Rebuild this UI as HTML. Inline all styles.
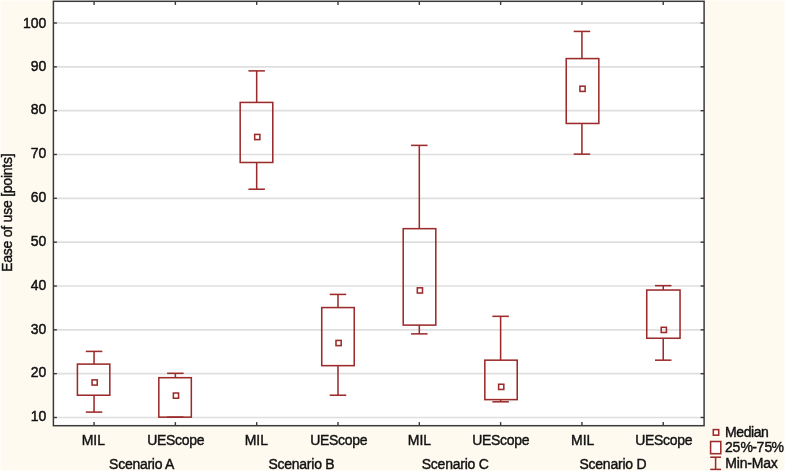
<!DOCTYPE html>
<html><head><meta charset="utf-8"><style>
html,body{margin:0;padding:0;background:#fefaf0;}
body{width:785px;height:471px;overflow:hidden;}
svg{display:block;}
text{font-family:"Liberation Sans",Arial,sans-serif;font-size:14px;fill:#111;stroke:#111;stroke-width:0.4px;}
text.n{font-size:14px;stroke-width:0.45px;}
</style></head><body>
<svg width="785" height="471" viewBox="0 0 785 471">
<rect width="785" height="471" fill="#fefaf0"/>
<rect x="0.5" y="0.5" width="784" height="470" fill="none" stroke="#fffdf8" stroke-width="1"/>
<rect x="53.4" y="1.3" width="650.7" height="424.4" fill="#fff"/>
<line x1="53.4" y1="417.50" x2="704.1" y2="417.50" stroke="#dfdfdf" stroke-width="1.6"/>
<line x1="53.4" y1="373.67" x2="704.1" y2="373.67" stroke="#dfdfdf" stroke-width="1.6"/>
<line x1="53.4" y1="329.83" x2="704.1" y2="329.83" stroke="#dfdfdf" stroke-width="1.6"/>
<line x1="53.4" y1="286.00" x2="704.1" y2="286.00" stroke="#dfdfdf" stroke-width="1.6"/>
<line x1="53.4" y1="242.17" x2="704.1" y2="242.17" stroke="#dfdfdf" stroke-width="1.6"/>
<line x1="53.4" y1="198.33" x2="704.1" y2="198.33" stroke="#dfdfdf" stroke-width="1.6"/>
<line x1="53.4" y1="154.50" x2="704.1" y2="154.50" stroke="#dfdfdf" stroke-width="1.6"/>
<line x1="53.4" y1="110.67" x2="704.1" y2="110.67" stroke="#dfdfdf" stroke-width="1.6"/>
<line x1="53.4" y1="66.83" x2="704.1" y2="66.83" stroke="#dfdfdf" stroke-width="1.6"/>
<line x1="53.4" y1="23.00" x2="704.1" y2="23.00" stroke="#dfdfdf" stroke-width="1.6"/>
<line x1="53.4" y1="417.50" x2="56.9" y2="417.50" stroke="#3a3a3a" stroke-width="1.4"/>
<line x1="700.6" y1="417.50" x2="704.1" y2="417.50" stroke="#3a3a3a" stroke-width="1.4"/>
<line x1="53.4" y1="373.67" x2="56.9" y2="373.67" stroke="#3a3a3a" stroke-width="1.4"/>
<line x1="700.6" y1="373.67" x2="704.1" y2="373.67" stroke="#3a3a3a" stroke-width="1.4"/>
<line x1="53.4" y1="329.83" x2="56.9" y2="329.83" stroke="#3a3a3a" stroke-width="1.4"/>
<line x1="700.6" y1="329.83" x2="704.1" y2="329.83" stroke="#3a3a3a" stroke-width="1.4"/>
<line x1="53.4" y1="286.00" x2="56.9" y2="286.00" stroke="#3a3a3a" stroke-width="1.4"/>
<line x1="700.6" y1="286.00" x2="704.1" y2="286.00" stroke="#3a3a3a" stroke-width="1.4"/>
<line x1="53.4" y1="242.17" x2="56.9" y2="242.17" stroke="#3a3a3a" stroke-width="1.4"/>
<line x1="700.6" y1="242.17" x2="704.1" y2="242.17" stroke="#3a3a3a" stroke-width="1.4"/>
<line x1="53.4" y1="198.33" x2="56.9" y2="198.33" stroke="#3a3a3a" stroke-width="1.4"/>
<line x1="700.6" y1="198.33" x2="704.1" y2="198.33" stroke="#3a3a3a" stroke-width="1.4"/>
<line x1="53.4" y1="154.50" x2="56.9" y2="154.50" stroke="#3a3a3a" stroke-width="1.4"/>
<line x1="700.6" y1="154.50" x2="704.1" y2="154.50" stroke="#3a3a3a" stroke-width="1.4"/>
<line x1="53.4" y1="110.67" x2="56.9" y2="110.67" stroke="#3a3a3a" stroke-width="1.4"/>
<line x1="700.6" y1="110.67" x2="704.1" y2="110.67" stroke="#3a3a3a" stroke-width="1.4"/>
<line x1="53.4" y1="66.83" x2="56.9" y2="66.83" stroke="#3a3a3a" stroke-width="1.4"/>
<line x1="700.6" y1="66.83" x2="704.1" y2="66.83" stroke="#3a3a3a" stroke-width="1.4"/>
<line x1="53.4" y1="23.00" x2="56.9" y2="23.00" stroke="#3a3a3a" stroke-width="1.4"/>
<line x1="700.6" y1="23.00" x2="704.1" y2="23.00" stroke="#3a3a3a" stroke-width="1.4"/>
<line x1="94.06" y1="1.3" x2="94.06" y2="4.9" stroke="#3a3a3a" stroke-width="1.4"/>
<line x1="94.06" y1="422.09999999999997" x2="94.06" y2="425.7" stroke="#3a3a3a" stroke-width="1.4"/>
<line x1="175.37" y1="1.3" x2="175.37" y2="4.9" stroke="#3a3a3a" stroke-width="1.4"/>
<line x1="175.37" y1="422.09999999999997" x2="175.37" y2="425.7" stroke="#3a3a3a" stroke-width="1.4"/>
<line x1="256.68" y1="1.3" x2="256.68" y2="4.9" stroke="#3a3a3a" stroke-width="1.4"/>
<line x1="256.68" y1="422.09999999999997" x2="256.68" y2="425.7" stroke="#3a3a3a" stroke-width="1.4"/>
<line x1="337.99" y1="1.3" x2="337.99" y2="4.9" stroke="#3a3a3a" stroke-width="1.4"/>
<line x1="337.99" y1="422.09999999999997" x2="337.99" y2="425.7" stroke="#3a3a3a" stroke-width="1.4"/>
<line x1="419.31" y1="1.3" x2="419.31" y2="4.9" stroke="#3a3a3a" stroke-width="1.4"/>
<line x1="419.31" y1="422.09999999999997" x2="419.31" y2="425.7" stroke="#3a3a3a" stroke-width="1.4"/>
<line x1="500.62" y1="1.3" x2="500.62" y2="4.9" stroke="#3a3a3a" stroke-width="1.4"/>
<line x1="500.62" y1="422.09999999999997" x2="500.62" y2="425.7" stroke="#3a3a3a" stroke-width="1.4"/>
<line x1="581.93" y1="1.3" x2="581.93" y2="4.9" stroke="#3a3a3a" stroke-width="1.4"/>
<line x1="581.93" y1="422.09999999999997" x2="581.93" y2="425.7" stroke="#3a3a3a" stroke-width="1.4"/>
<line x1="663.24" y1="1.3" x2="663.24" y2="4.9" stroke="#3a3a3a" stroke-width="1.4"/>
<line x1="663.24" y1="422.09999999999997" x2="663.24" y2="425.7" stroke="#3a3a3a" stroke-width="1.4"/>
<rect x="53.4" y="1.3" width="650.7" height="424.4" fill="none" stroke="#3a3a3a" stroke-width="1.5"/>
<g fill="none" stroke="#9c2c2c" stroke-width="1.55"><line x1="94.06" y1="351.40" x2="94.06" y2="364.11"/><line x1="94.06" y1="395.23" x2="94.06" y2="412.11"/><line x1="85.81" y1="351.40" x2="102.31" y2="351.40"/><line x1="85.81" y1="412.11" x2="102.31" y2="412.11"/><rect x="77.41" y="364.11" width="32.4" height="31.12"/><rect x="92.06" y="379.88" width="5.2" height="5.2"/></g>
<g fill="none" stroke="#9c2c2c" stroke-width="1.55"><line x1="175.37" y1="373.32" x2="175.37" y2="377.70"/><line x1="175.37" y1="417.15" x2="175.37" y2="417.15"/><line x1="167.12" y1="373.32" x2="183.62" y2="373.32"/><line x1="167.12" y1="417.15" x2="183.62" y2="417.15"/><rect x="158.82" y="377.70" width="32.5" height="39.45"/><rect x="173.37" y="393.03" width="5.2" height="5.2"/></g>
<g fill="none" stroke="#9c2c2c" stroke-width="1.55"><line x1="256.68" y1="70.87" x2="256.68" y2="102.43"/><line x1="256.68" y1="162.48" x2="256.68" y2="189.22"/><line x1="248.43" y1="70.87" x2="264.93" y2="70.87"/><line x1="248.43" y1="189.22" x2="264.93" y2="189.22"/><rect x="240.18" y="102.43" width="32.6" height="60.05"/><rect x="254.68" y="134.42" width="5.2" height="5.2"/></g>
<g fill="none" stroke="#9c2c2c" stroke-width="1.55"><line x1="337.99" y1="294.42" x2="337.99" y2="307.57"/><line x1="337.99" y1="365.65" x2="337.99" y2="395.23"/><line x1="329.74" y1="294.42" x2="346.24" y2="294.42"/><line x1="329.74" y1="395.23" x2="346.24" y2="395.23"/><rect x="321.74" y="307.57" width="32.5" height="58.08"/><rect x="335.99" y="340.43" width="5.2" height="5.2"/></g>
<g fill="none" stroke="#9c2c2c" stroke-width="1.55"><line x1="419.31" y1="145.38" x2="419.31" y2="228.67"/><line x1="419.31" y1="325.10" x2="419.31" y2="333.87"/><line x1="411.06" y1="145.38" x2="427.56" y2="145.38"/><line x1="411.06" y1="333.87" x2="427.56" y2="333.87"/><rect x="403.21" y="228.67" width="32.6" height="96.43"/><rect x="417.31" y="287.83" width="5.2" height="5.2"/></g>
<g fill="none" stroke="#9c2c2c" stroke-width="1.55"><line x1="500.62" y1="316.33" x2="500.62" y2="360.17"/><line x1="500.62" y1="399.62" x2="500.62" y2="401.81"/><line x1="492.37" y1="316.33" x2="508.87" y2="316.33"/><line x1="492.37" y1="401.81" x2="508.87" y2="401.81"/><rect x="484.82" y="360.17" width="32.4" height="39.45"/><rect x="498.62" y="384.27" width="5.2" height="5.2"/></g>
<g fill="none" stroke="#9c2c2c" stroke-width="1.55"><line x1="581.93" y1="31.42" x2="581.93" y2="58.59"/><line x1="581.93" y1="123.47" x2="581.93" y2="154.15"/><line x1="573.68" y1="31.42" x2="590.18" y2="31.42"/><line x1="573.68" y1="154.15" x2="590.18" y2="154.15"/><rect x="566.23" y="58.59" width="32.6" height="64.87"/><rect x="579.93" y="86.20" width="5.2" height="5.2"/></g>
<g fill="none" stroke="#9c2c2c" stroke-width="1.55"><line x1="663.24" y1="285.65" x2="663.24" y2="290.03"/><line x1="663.24" y1="338.25" x2="663.24" y2="360.17"/><line x1="654.99" y1="285.65" x2="671.49" y2="285.65"/><line x1="654.99" y1="360.17" x2="671.49" y2="360.17"/><rect x="646.74" y="290.03" width="33.3" height="48.22"/><rect x="661.24" y="327.28" width="5.2" height="5.2"/></g>
<text class="n" x="46.3" y="421.25" text-anchor="end" transform="translate(0,421.25) scale(1,1.11) translate(0,-421.25)">10</text>
<text class="n" x="46.3" y="377.42" text-anchor="end" transform="translate(0,377.42) scale(1,1.11) translate(0,-377.42)">20</text>
<text class="n" x="46.3" y="333.58" text-anchor="end" transform="translate(0,333.58) scale(1,1.11) translate(0,-333.58)">30</text>
<text class="n" x="46.3" y="289.75" text-anchor="end" transform="translate(0,289.75) scale(1,1.11) translate(0,-289.75)">40</text>
<text class="n" x="46.3" y="245.92" text-anchor="end" transform="translate(0,245.92) scale(1,1.11) translate(0,-245.92)">50</text>
<text class="n" x="46.3" y="202.08" text-anchor="end" transform="translate(0,202.08) scale(1,1.11) translate(0,-202.08)">60</text>
<text class="n" x="46.3" y="158.25" text-anchor="end" transform="translate(0,158.25) scale(1,1.11) translate(0,-158.25)">70</text>
<text class="n" x="46.3" y="114.42" text-anchor="end" transform="translate(0,114.42) scale(1,1.11) translate(0,-114.42)">80</text>
<text class="n" x="46.3" y="70.58" text-anchor="end" transform="translate(0,70.58) scale(1,1.11) translate(0,-70.58)">90</text>
<text class="n" x="46.3" y="27.95" text-anchor="end" transform="translate(0,27.95) scale(1,1.11) translate(0,-27.95)">100</text>
<text id="ytitle" transform="translate(11.6,271.90) rotate(-90) scale(1,1.06)" textLength="118.57" lengthAdjust="spacing">Ease of use [points]</text>
<text id="MIL_A" x="93.35" y="444.8" text-anchor="middle" transform="translate(0,444.80) scale(1,1.06) translate(0,-444.80)">MIL</text>
<text id="UES_A" x="147.20" y="444.8" textLength="57.26" lengthAdjust="spacing" transform="translate(0,444.80) scale(1,1.06) translate(0,-444.80)">UEScope</text>
<text id="MIL_B" x="256.35" y="444.8" text-anchor="middle" transform="translate(0,444.80) scale(1,1.06) translate(0,-444.80)">MIL</text>
<text id="UES_B" x="310.20" y="444.8" textLength="57.26" lengthAdjust="spacing" transform="translate(0,444.80) scale(1,1.06) translate(0,-444.80)">UEScope</text>
<text id="MIL_C" x="419.45" y="444.8" text-anchor="middle" transform="translate(0,444.80) scale(1,1.06) translate(0,-444.80)">MIL</text>
<text id="UES_C" x="472.20" y="444.8" textLength="57.26" lengthAdjust="spacing" transform="translate(0,444.80) scale(1,1.06) translate(0,-444.80)">UEScope</text>
<text id="MIL_D" x="582.70" y="444.8" text-anchor="middle" transform="translate(0,444.80) scale(1,1.06) translate(0,-444.80)">MIL</text>
<text id="UES_D" x="635.20" y="444.8" textLength="57.26" lengthAdjust="spacing" transform="translate(0,444.80) scale(1,1.06) translate(0,-444.80)">UEScope</text>
<text id="ScA" x="109.10" y="469.0" textLength="65.32" lengthAdjust="spacing" transform="translate(0,469.00) scale(1,1.06) translate(0,-469.00)">Scenario A</text>
<text id="ScB" x="268.40" y="469.0" textLength="66.28" lengthAdjust="spacing" transform="translate(0,469.00) scale(1,1.06) translate(0,-469.00)">Scenario B</text>
<text id="ScC" x="421.70" y="469.0" textLength="67.27" lengthAdjust="spacing" transform="translate(0,469.00) scale(1,1.06) translate(0,-469.00)">Scenario C</text>
<text id="ScD" x="579.40" y="469.0" textLength="67.27" lengthAdjust="spacing" transform="translate(0,469.00) scale(1,1.06) translate(0,-469.00)">Scenario D</text>
<rect x="713.3" y="429.6" width="5.4" height="5.6" fill="#fff" stroke="#9c2c2c" stroke-width="1.55"/>
<rect x="710.6" y="441.5" width="10.2" height="12.2" fill="#fff" stroke="#9c2c2c" stroke-width="1.55"/>
<g stroke="#9c2c2c" stroke-width="1.55"><line x1="710.2" y1="457.2" x2="721.0" y2="457.2"/><line x1="715.6" y1="457.2" x2="715.6" y2="469.4"/><line x1="710.2" y1="469.4" x2="721.0" y2="469.4"/></g>
<text id="Median" x="725.10" y="436.6" textLength="43.72" lengthAdjust="spacing" transform="translate(0,436.60) scale(1,1.06) translate(0,-436.60)">Median</text>
<text id="Q" x="725.0 732.6 740.4 752.2 756.6 764.4 771.5" y="452.0" transform="translate(0,452.00) scale(1,1.06) translate(0,-452.00)">25%-75%</text>
<text id="MinMax" x="725.30" y="467.6" textLength="52.47" lengthAdjust="spacing" transform="translate(0,467.60) scale(1,1.06) translate(0,-467.60)">Min-Max</text>
</svg>
</body></html>
